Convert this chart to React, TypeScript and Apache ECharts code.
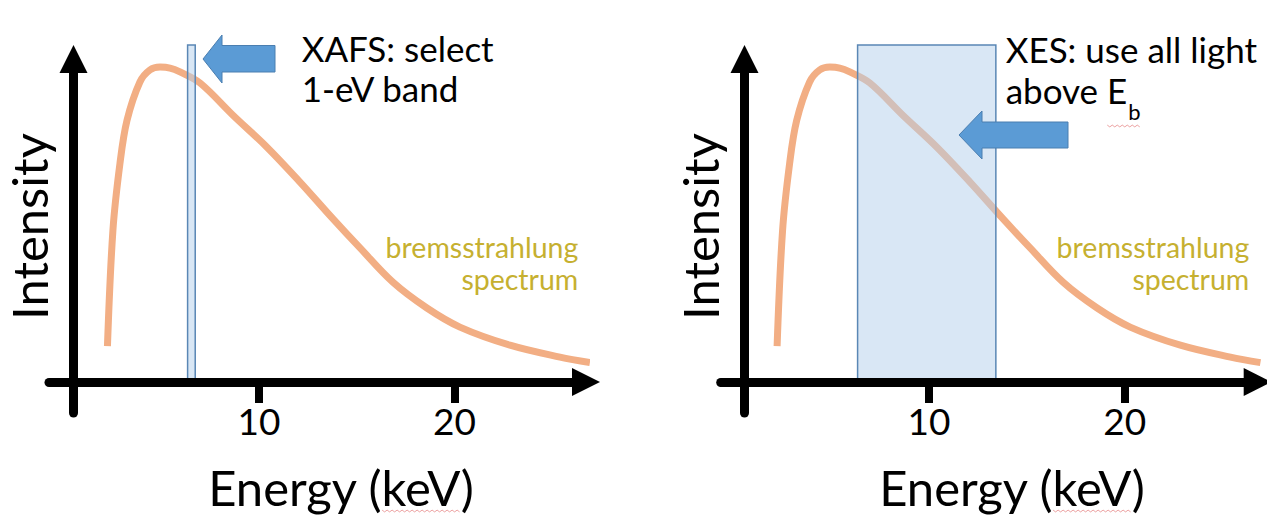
import React, { useEffect, useRef } from 'react';
import * as echarts from 'echarts';

// Bremsstrahlung spectrum (keV, arbitrary intensity)
const energy = [2.25, 2.53, 2.89, 3.25, 3.91, 4.42, 4.94, 5.45, 5.96, 6.98, 8.67, 10.41, 12.1, 13.79, 15.17, 16.85, 18.59, 20.28, 22.84, 25.4, 26.93];
const intensity = [11.1, 47.0, 67.7, 81.0, 92.9, 96.6, 97.5, 97.2, 96.0, 92.6, 82.6, 72.7, 61.9, 50.5, 41.5, 30.9, 22.9, 17.0, 11.4, 7.7, 6.0];
const tickValues = [10, 20];
const xafsBand = [6.35, 6.74];
const xesBand = [6.36, 13.42];
const bandTop = 104.3;

const xTitle = 'Energy (keV)';
const yTitle = 'Intensity';
const spectrumLabel = ['bremsstrahlung', 'spectrum'];
const xafsNote = ['XAFS: select', '1-eV band'];
const xesNote = ['XES: use all light', 'above E'];
const xesSub = 'b';

const FONT = 'Lato';

export default function App() {
  const ref = useRef<HTMLDivElement>(null);
  useEffect(() => {
    if (!ref.current) return;
    const chart = echarts.init(ref.current, undefined, { renderer: 'svg' });
    const curve = energy.map((e, i) => [e, intensity[i]]);
    const bands = [xafsBand, xesBand];

    const ctx = document.createElement('canvas').getContext('2d');
    const measure = (s: string, size: number) => {
      if (!ctx) return s.length * size * 0.5;
      ctx.font = `${size}px ${FONT}`;
      return ctx.measureText(s).width;
    };
    const wAbove = measure(xesNote[1], 35);

    const panelX = [0, 671];
    const xMin = [-0.74, -0.63];
    const xMax = [26.73, 26.79];
    const gridLeft = [49, 720.7];
    const yOffset = [-24.5, -23.8];

    const axisLine = {
      show: true,
      lineStyle: { color: '#000', width: 9 },
      symbol: ['none', 'triangle'],
      symbolSize: [28, 28],
    };

    const txt = (x: number, y: number, text: string, fontSize: number, extra: any = {}, styleExtra: any = {}) => ({
      type: 'text',
      x,
      y,
      z: 20,
      ...extra,
      style: {
        text,
        fontSize,
        fontFamily: FONT,
        fill: '#000',
        align: 'left',
        verticalAlign: 'middle',
        ...styleExtra,
      },
    });

    const squiggle = (x0: number, x1: number, y: number) => {
      const pts: number[][] = [];
      let k = 0;
      for (let x = x0; x <= x1; x += 2.5) {
        pts.push([x, y + (k % 2 === 0 ? -0.9 : 0.9)]);
        k++;
      }
      return {
        type: 'polyline',
        z: 20,
        shape: { points: pts },
        style: { stroke: 'rgba(220,90,90,0.7)', lineWidth: 0.8, fill: 'none' },
      };
    };

    const graphics: any[] = [];
    const arrowStyle = { fill: '#5B9BD5', stroke: '#4A7EB0', lineWidth: 1 };
    graphics.push({
      type: 'polygon',
      z: 20,
      shape: { points: [[203, 59], [222, 35], [222, 45.5], [275, 45.5], [275, 72], [222, 72], [222, 83]] },
      style: arrowStyle,
    });
    graphics.push({
      type: 'polygon',
      z: 20,
      shape: { points: [[959, 135], [982, 111], [982, 122], [1068, 122], [1068, 148], [982, 148], [982, 159]] },
      style: arrowStyle,
    });
    // notes
    graphics.push(txt(301.7, 48.3, xafsNote[0], 35));
    graphics.push(txt(301.7, 87.5, xafsNote[1], 35));
    graphics.push(txt(1005.7, 48.5, xesNote[0], 35));
    graphics.push(txt(1005.7, 89.5, xesNote[1], 35));
    graphics.push(txt(1005.7 + wAbove + 1, 111, xesSub, 22));
    graphics.push(squiggle(1005.7 + wAbove - 20, 1005.7 + wAbove + 14, 126));

    const titleSize = 49;
    const wTitle = measure(xTitle, titleSize);
    const wPre = measure('Energy (', titleSize);
    const wKev = measure('keV', titleSize);

    panelX.forEach((dx) => {
      graphics.push(txt(578.3 + dx, 247, spectrumLabel[0], 28.5, {}, { fill: '#C6B030', align: 'right' }));
      graphics.push(txt(578.3 + dx, 279, spectrumLabel[1], 28.5, {}, { fill: '#C6B030', align: 'right' }));
      graphics.push(txt(29 + dx, 226.5, yTitle, 49, { rotation: Math.PI / 2 }, { align: 'center' }));
      graphics.push(txt(341 + dx, 487, xTitle, titleSize, {}, { align: 'center' }));
      const kx = 341 + dx - wTitle / 2 + wPre;
      graphics.push(squiggle(kx, kx + wKev, 511));
    });

    chart.setOption({
      animation: false,
      backgroundColor: '#fff',
      grid: [0, 1].map((i) => ({ left: gridLeft[i], top: 59, width: 537, height: 354 })),
      xAxis: [0, 1].map((i) => ({
        type: 'value',
        gridIndex: i,
        min: xMin[i],
        max: xMax[i],
        z: 5,
        axisLine: { ...axisLine, onZero: true },
        axisTick: { show: true, customValues: tickValues, length: 21, lineStyle: { color: '#000', width: 8 } },
        axisLabel: {
          show: true,
          customValues: tickValues,
          margin: 7,
          verticalAlign: 'middle',
          fontSize: 37,
          fontFamily: FONT,
          color: '#000',
        },
        splitLine: { show: false },
      })),
      yAxis: [0, 1].map((i) => ({
        type: 'value',
        gridIndex: i,
        min: -9.6,
        max: 100,
        position: 'left',
        offset: yOffset[i],
        z: 5,
        axisLine: { ...axisLine, onZero: false },
        axisTick: { show: false },
        axisLabel: { show: false },
        splitLine: { show: false },
      })),
      series: [
        ...[0, 1].map((i) => ({
          type: 'line',
          xAxisIndex: i,
          yAxisIndex: i,
          data: curve,
          showSymbol: false,
          smooth: 0.35,
          clip: false,
          lineStyle: { color: '#F2AE84', width: 7, cap: 'butt', join: 'round' },
          z: 2,
        })),
        ...[0, 1].map((i) => ({
          type: 'custom',
          xAxisIndex: i,
          yAxisIndex: i,
          clip: false,
          z: 3,
          data: [[bands[i][0], bands[i][1], bandTop]],
          renderItem: (params: any, api: any) => {
            const p0 = api.coord([api.value(0), api.value(2)]);
            const p1 = api.coord([api.value(1), 0]);
            return {
              type: 'rect',
              shape: { x: p0[0], y: p0[1], width: p1[0] - p0[0], height: p1[1] - p0[1] },
              style: { fill: 'rgba(180,207,235,0.5)', stroke: '#5A87B5', lineWidth: 1.5 },
            };
          },
        })),
      ],
      graphic: graphics,
    });
    return () => chart.dispose();
  }, []);
  return <div ref={ref} style={{ position: 'absolute', left: 0, top: 0, width: 1267, height: 527 }} />;
}
